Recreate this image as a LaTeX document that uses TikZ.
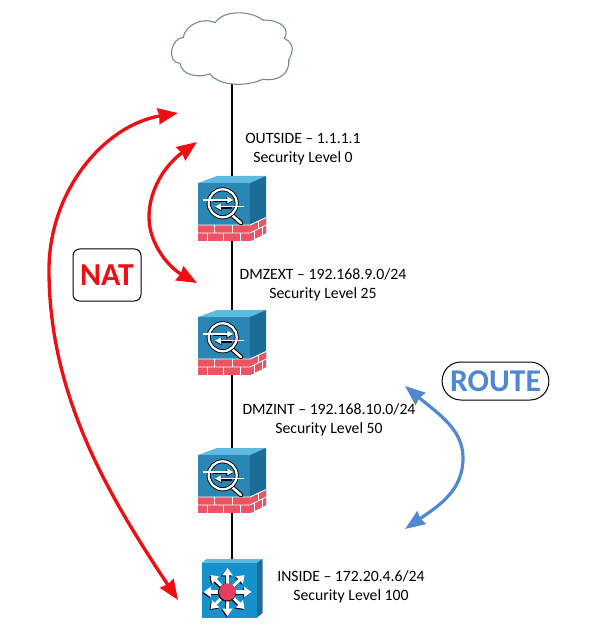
\documentclass[tikz,border=0pt]{standalone}
\usepackage{fontspec}
\setmainfont{Carlito}
\usetikzlibrary{arrows.meta}
\definecolor{fwfront}{HTML}{2A86B4}
\definecolor{fwtop}{HTML}{5DBBDF}
\definecolor{fwside}{HTML}{1B6C96}
\definecolor{brick}{HTML}{EC5464}
\definecolor{swfront}{HTML}{1591CC}
\definecolor{hub}{HTML}{E63E62}
\definecolor{cloudline}{HTML}{6F8A8C}
\definecolor{natred}{HTML}{EE0F14}
\definecolor{routeblue}{HTML}{4F88D0}
\tikzset{
  x=0.75pt,y=-0.75pt,
  iconbox/.style={inner sep=0pt,outer sep=0pt,minimum width=#1},
  link/.style={line width=1.5pt,black},
  label/.style={align=center,font=\fontsize{11.8}{14.25}\selectfont,inner sep=0pt},
  nat/.style={line width=2.5pt,natred,{Stealth[length=15pt,width=12pt,inset=1pt]}-{Stealth[length=15pt,width=12pt,inset=1pt]}},
  route/.style={line width=2.4pt,routeblue,{Stealth[length=15pt,width=11.5pt,inset=1pt]}-{Stealth[length=15pt,width=11.5pt,inset=1pt]}},
  brickline/.style={white,line width=0.65pt},
  fw/.pic={
    \begin{scope}[shift={(-34,-32.5)}]
      \fill[fwtop] (0,7) -- (19,0) -- (68,0) -- (52,7) -- cycle;
      \fill[fwside] (52,7) -- (68,0) -- (68,57) -- (52,65) -- cycle;
      \fill[fwfront] (0,7) rectangle (52,49);
      \fill[brick] (0,49) rectangle (52,65);
      \fill[brick] (52,49) -- (68,41.5) -- (68,57) -- (52,65) -- cycle;
      \draw[brickline] (0,49) -- (52,49) -- (68,41.5);
      \draw[brickline] (0,57) -- (52,57) -- (68,49);
      \draw[brickline] (16,49) -- (16,57) (34,49) -- (34,57) (9,57) -- (9,65) (25,57) -- (25,65) (42,57) -- (42,65);
      \draw[brickline] (60,45) -- (60,53) (56,55) -- (56,63) (64,51) -- (64,59);
      \draw[black,line width=3.4pt,line cap=round] (35,40) -- (43,47);
      \draw[white,line width=1.9pt,line cap=round] (35,40) -- (43,47);
      \draw[black,line width=3pt] (24.7,27.3) circle[radius=14];
      \draw[white,line width=1.7pt] (24.7,27.3) circle[radius=14];
      \draw[black,line width=1.6pt,-{Triangle[length=5pt,width=5pt]}] (15,25) -- (35,25);
      \draw[black,line width=1.6pt,-{Triangle[length=5pt,width=5pt]}] (34,31.5) -- (17,31.5);
      \draw[white,line width=1pt,-{Triangle[length=4.5pt,width=4.5pt]}] (4.7,24) -- (35.3,24);
      \draw[white,line width=1pt,-{Triangle[length=4.5pt,width=4.5pt]}] (46,30.7) -- (17,30.7);
    \end{scope}
  },
  sw/.pic={
    \begin{scope}[shift={(-30.5,-29.5)}]
      \fill[fwtop] (0,4) -- (5,0) -- (61,0) -- (55,4) -- cycle;
      \fill[fwside] (55,4) -- (61,0) -- (61,54) -- (55,59) -- cycle;
      \fill[swfront] (0,4) rectangle (55,59);
      \begin{scope}[shift={(26,33)}]
        \foreach \a in {0,45,...,315}{
          \draw[black,line width=2.3pt,shift={(-1,1)},-{Triangle[length=5.5pt,width=7.5pt]}] (0,0) -- (\a:24);
        }
        \foreach \a in {0,45,...,315}{
          \draw[white,line width=2.3pt,-{Triangle[length=5.5pt,width=7.5pt]}] (0,0) -- (\a:24);
        }
        \fill[black] (-0.6,0.6) circle[radius=9];
        \fill[hub] (0,0) circle[radius=8.5];
      \end{scope}
    \end{scope}
  },
}
\begin{document}
\begin{tikzpicture}
\useasboundingbox (0,0) rectangle (601,641);
% anchor boxes for the devices
\node[iconbox=91.5pt,minimum height=48pt] (cloud) at (232,52) {};
\node[iconbox=51pt,minimum height=48.75pt] (fw1) at (232,208.5) {};
\node[iconbox=51pt,minimum height=48.75pt] (fw2) at (232,342.5) {};
\node[iconbox=51pt,minimum height=48.75pt] (fw3) at (232,480.5) {};
\node[iconbox=45.75pt,minimum height=44.25pt] (sw) at (232,588.5) {};
% connectors
\draw[link] (cloud.south) -- (fw1.north);
\draw[link] (fw1.south) -- (fw2.north);
\draw[link] (fw2.south) -- (fw3.north);
\draw[link] (fw3.south) -- (sw.north);
% icons
\filldraw[cloudline,fill=white,line width=0.8pt]
  (183.3,37.3) .. controls (185,25) and (203.3,16.7) .. (215,22.7)
  .. controls (223.3,10) and (250,10) .. (262.7,20)
  .. controls (282.7,20) and (290,30) .. (284.3,38.3)
  .. controls (296.7,45) and (291.7,53.3) .. (288.7,60)
  .. controls (290,75) and (276.7,81.7) .. (262.7,79.3)
  .. controls (246.7,86.7) and (220,86.7) .. (210,74)
  .. controls (196.7,78.3) and (181.7,75) .. (180,63.3)
  .. controls (166.7,63.3) and (170,38.3) .. (183.3,37.3) -- cycle;
\pic at (fw1.center) {fw};
\pic at (fw2.center) {fw};
\pic at (fw3.center) {fw};
\pic at (sw.center) {sw};
% labels
\node[label] (l1) at (303,149.5) {OUTSIDE – 1.1.1.1\\Security Level 0};
\node[label] (l2) at (323,284.5) {DMZEXT – 192.168.9.0/24\\Security Level 25};
\node[label] (l3) at (329,420) {DMZINT – 192.168.10.0/24\\Security Level 50};
\node[label] (l4) at (351,587) {INSIDE – 172.20.4.6/24\\Security Level 100};
\node[draw=black,line width=0.75pt,rounded corners=5pt,minimum width=51pt,minimum height=39pt,inner sep=0pt,text=natred,font=\fontsize{24}{24}\bfseries\selectfont] (natbox) at (107,275) {NAT};
\node[draw=black,line width=0.75pt,rounded corners=14pt,minimum width=80pt,minimum height=28.5pt,inner sep=0pt,text=routeblue,font=\fontsize{23.8}{23.8}\bfseries\selectfont] (routebox) at (495.5,381) {ROUTE};
% arrow ends
\coordinate (n1a) at (178,113);
\coordinate (n1b) at (178,600);
\coordinate (n1m) at (49,270);
\coordinate (n2a) at (197,142);
\coordinate (n2b) at (197,283);
\coordinate (n2m) at (149,217);
\coordinate (r1a) at (405,386);
\coordinate (r1b) at (405,529);
\coordinate (r1m) at (463,458);
\draw[nat] (n1a) .. controls (105,125) and (49,190) .. (n1m) .. controls (49,395) and (108,495) .. (n1b);
\draw[nat] (n2a) .. controls (165,165) and (149,190) .. (n2m) .. controls (149,245) and (170,268) .. (n2b);
\draw[route] (r1a) .. controls (440,415) and (463,430) .. (r1m) .. controls (463,490) and (440,505) .. (r1b);
\end{tikzpicture}
\end{document}
